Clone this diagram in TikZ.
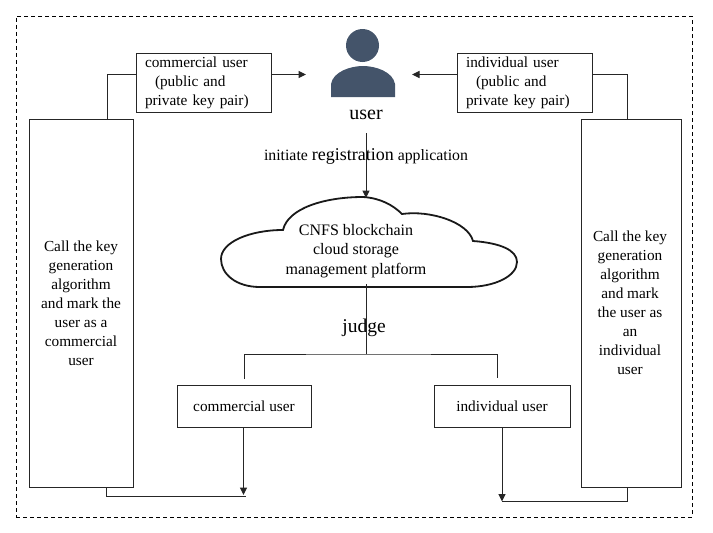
\documentclass[tikz,border=0pt]{standalone}
\usepackage{fontspec}
\setmainfont{Liberation Serif}
\usetikzlibrary{arrows.meta,calc}
\tikzset{
  box/.style={draw=black!85, line width=1pt, anchor=center, inner sep=0pt, align=center},
  label/.style={inner sep=0pt, align=center, font=\fontsize{15.3}{19}\selectfont},
  keybox/.style={box, label, text width=117pt, inner xsep=9pt, align=left, minimum height=59pt},
  link/.style={draw=black!85, line width=1pt},
  arrow/.style={link, -{Triangle[length=7.5pt,width=7pt]}}
}

\begin{document}
\begin{tikzpicture}[x=1pt, y=-1pt]
    \useasboundingbox (0,0) rectangle (713,533);
    % outer frame
    \node [draw, dashed, line width=0.9pt, dash pattern=on 4pt off 3pt, minimum width=676pt, minimum height=501pt, inner sep=0pt] (frame) at (354,266.5) {};

    % person icon
    \fill [color={rgb,255:red,68;green,84;blue,106}] (362.5,45.5) circle (16.5);
    \fill [color={rgb,255:red,68;green,84;blue,106}] (331,97) -- (331,84) .. controls (333,72) and (350,66) .. (363,66)
      .. controls (376,66) and (393,72) .. (395,84) -- (395,97) -- cycle;
    \node [label, font=\fontsize{20}{22}\selectfont] (user) at (366,115) {user};
    \node [label, font=\fontsize{15.8}{19}\selectfont] (apply) at (366,156)
      {initiate {\fontsize{18}{19}\selectfont registration} application};

    % key pair boxes
    \node [keybox] (keyleft) at (203.5,82.5)
      {commercial user\\ \hspace*{10pt}(public and\\ private key pair)};
    \node [keybox] (keyright) at (524.5,82.5)
      {individual user\\ \hspace*{10pt}(public and\\ private key pair)};

    % tall boxes
    \node [box, minimum width=104pt, minimum height=368pt] (callleft) at (81,303) {};
    \node [label] (calllefttext) at (81,303.5)
      {Call the key\\ generation\\ algorithm\\ and mark the\\ user as a\\ commercial\\ user};
    \node [box, minimum width=100pt, minimum height=368pt] (callright) at (631,303) {};
    \node [label] (callrighttext) at (630,303)
      {Call the key\\ generation\\ algorithm\\ and mark\\ the user as\\ an\\ individual\\ user};

    % cloud
    \draw [line width=1.8pt, draw=black!90] (260,287) .. controls (236,287) and (221,274) .. (221,259)
      .. controls (221,242) and (250,230) .. (283,230)
      .. controls (288,208) and (325,197) .. (363,197)
      .. controls (380,198) and (393,205) .. (402,214)
      .. controls (430,210) and (468,222) .. (473,241)
      .. controls (500,243) and (517,250) .. (517,262)
      .. controls (517,276) and (495,287) .. (467,287) -- cycle;
    \node [label, font=\fontsize{16}{19.5}\selectfont] (cloud) at (356,251)
      {CNFS blockchain\\ cloud storage\\ management platform};
    \coordinate (cloudtop) at (366,198);
    \coordinate (cloudbase) at (366,284);

    % judge branch
    \node [label, font=\fontsize{19.5}{22}\selectfont] (judge) at (364,328) {judge};
    \node [box, label, minimum width=134pt, minimum height=42pt] (lowleft) at (244,406) {commercial user};
    \node [box, label, minimum width=136pt, minimum height=42pt] (lowright) at (502,406) {individual user};
    \coordinate (fork) at (366,354);
    \coordinate (forkleft) at (244,379);
    \coordinate (forkright) at (497,378);
    \coordinate (tipleft) at (243.5,495);
    \coordinate (tipright) at (502,501.5);
    \coordinate (userleft) at (306,74.5);
    \coordinate (userright) at (412,74.5);
    \coordinate (usergap) at (366,133);

    % connectors
    \draw [arrow] (usergap) -- (cloudtop);
    \draw [link] (cloudbase) -- (fork);
    \draw [link] (forkleft) |- (fork) -| (forkright);
    \draw [arrow] (keyleft.east |- userleft) -- (userleft);
    \draw [arrow] (keyright.west |- userright) -- (userright);
    \draw [link] (keyleft.west |- userleft) -| (107.5,119);
    \draw [link] (keyright.east |- userright) -| (627.5,119);
    \draw [arrow] (lowleft.south -| tipleft) -- (tipleft);
    \draw [arrow] (lowright.south -| tipright) -- (tipright);
    \draw [link] (106.5,487) |- (246,496.5);
    \draw [link] (627,487) |- (tipright);
\end{tikzpicture}
\end{document}
